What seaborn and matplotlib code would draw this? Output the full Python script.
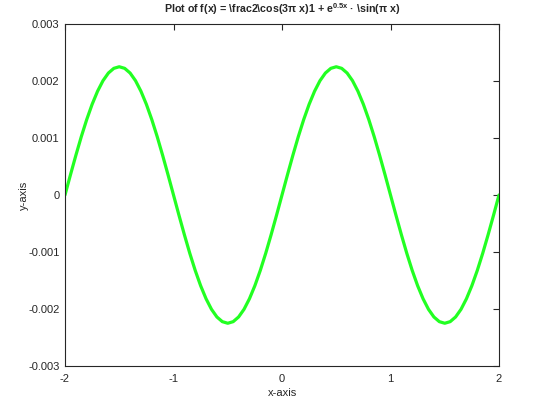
import matplotlib
matplotlib.use('Agg')
import matplotlib.pyplot as plt
from matplotlib.ticker import FuncFormatter, MultipleLocator
import numpy as np
import pandas as pd
import seaborn as sns

# sample positions (step 0.05 over [-2, 2])
x_vals = np.round(np.arange(-2.0, 2.0001, 0.05), 2)

# curve values at each sample
y_vals = [
    0.0, 0.000352, 0.000695, 0.001022, 0.001323, 0.001591, 0.00182, 0.002005, 0.00214, 0.002222,
    0.00225, 0.002222, 0.00214, 0.002005, 0.00182, 0.001591, 0.001323, 0.001022, 0.000695, 0.000352,
    0.0, -0.000352, -0.000695, -0.001022, -0.001323, -0.001591, -0.00182, -0.002005, -0.00214, -0.002222,
    -0.00225, -0.002222, -0.00214, -0.002005, -0.00182, -0.001591, -0.001323, -0.001022, -0.000695, -0.000352,
    0.0, 0.000352, 0.000695, 0.001022, 0.001323, 0.001591, 0.00182, 0.002005, 0.00214, 0.002222,
    0.00225, 0.002222, 0.00214, 0.002005, 0.00182, 0.001591, 0.001323, 0.001022, 0.000695, 0.000352,
    0.0, -0.000352, -0.000695, -0.001022, -0.001323, -0.001591, -0.00182, -0.002005, -0.00214, -0.002222,
    -0.00225, -0.002222, -0.00214, -0.002005, -0.00182, -0.001591, -0.001323, -0.001022, -0.000695, -0.000352,
    0.0,
]

title = "Plot of f(x) = \\frac2\\cos(3\u03c0 x)1 + e$^{\\mathbf{0.5x}}$ \u00b7 \\sin(\u03c0 x)"

sns.set_style('white')
plt.rcParams['font.family'] = ['Liberation Sans', 'DejaVu Sans']
plt.rcParams['mathtext.fontset'] = 'custom'
plt.rcParams['mathtext.rm'] = 'Liberation Sans'
plt.rcParams['mathtext.bf'] = 'Liberation Sans:bold'

df = pd.DataFrame({'x': x_vals, 'y': y_vals})

fig = plt.figure(figsize=(5.36, 4.04), dpi=100)
ax = fig.add_axes([65 / 536, 1 - 366 / 404, 434 / 536, 342 / 404])
sns.lineplot(data=df, x='x', y='y', sort=False, color='#22ff22', linewidth=2.3, ax=ax)

ax.set_xlim(-2, 2)
ax.set_ylim(-0.003, 0.003)
ax.xaxis.set_major_locator(MultipleLocator(1))
ax.yaxis.set_major_locator(MultipleLocator(0.001))
ax.yaxis.set_major_formatter(FuncFormatter(lambda v, p: '%g' % round(v, 6)))
ax.xaxis.set_major_formatter(FuncFormatter(lambda v, p: '%g' % v))
ax.tick_params(direction='in', length=4, width=0.8, top=True, right=True,
               labelsize=8, colors='#262626')
ax.tick_params(axis='y', pad=4)
ax.tick_params(axis='x', pad=6)
for s in ax.spines.values():
    s.set_color('#262626')
    s.set_linewidth(0.8)

ax.set_xlabel('x-axis', fontsize=8, color='#262626', labelpad=3)
ax.set_ylabel('y-axis', fontsize=8, color='#262626', labelpad=-1)
ax.set_title(title, fontsize=7.7, fontweight='bold', pad=8)

fig.savefig('out.png', dpi=100)
